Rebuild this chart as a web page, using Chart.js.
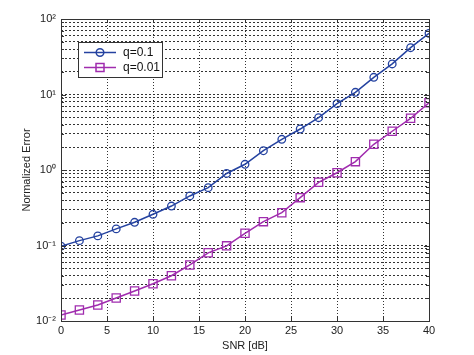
<!DOCTYPE html>
<html>
<head>
<meta charset="utf-8">
<script src="https://cdn.jsdelivr.net/npm/chart.js@4/dist/chart.umd.min.js"></script>
<style>
html,body{margin:0;padding:0;background:#fff;}
canvas{display:block;}
</style>
</head>
<body>
<canvas id="c" width="474" height="355"></canvas>
<script>
const snr = [0,2,4,6,8,10,12,14,16,18,20,22,24,26,28,30,32,34,36,38,40];
const errQ01 = [0.098,0.116,0.134,0.166,0.203,0.259,0.333,0.453,0.583,0.90,1.19,1.80,2.55,3.49,4.93,7.55,10.7,16.9,25.4,41.7,64.6];
const errQ001 = [0.012,0.014,0.0163,0.0202,0.025,0.0312,0.0398,0.0552,0.080,0.099,0.145,0.207,0.272,0.43,0.687,0.92,1.29,2.19,3.26,4.84,7.78];
const seriesLabels = ['q=0.1','q=0.01'];
const xTicks = [0,5,10,15,20,25,30,35,40];
const yDecades = [0.01,0.1,1,10,100];
const yDecadeLabels = ['10\u207B\u00B2','10\u207B\u00B9','10\u2070','10\u00B9','10\u00B2'];

const BLUE = '#2442a0';
const PURPLE = '#a02cae';
const FONT = '"Liberation Sans", Arial, sans-serif';

function toPts(xs, ys){ return xs.map((x,i)=>({x:x,y:ys[i]})); }

const boxPlugin = {
  id:'boxPlugin',
  afterDatasetsDraw(chart){
    const ctx = chart.ctx, a = chart.chartArea;
    const xs = chart.scales.x, ys = chart.scales.y;
    ctx.save();
    ctx.strokeStyle = '#333';
    ctx.lineWidth = 1;
    ctx.beginPath();
    xTicks.forEach(v=>{
      const px = Math.round(xs.getPixelForValue(v))+0.5;
      ctx.moveTo(px,a.bottom); ctx.lineTo(px,a.bottom-4);
      ctx.moveTo(px,a.top); ctx.lineTo(px,a.top+4);
    });
    ys.ticks.forEach(t=>{
      const py = Math.round(ys.getPixelForValue(t.value))+0.5;
      const len = yDecades.some(d=>Math.abs(d-t.value)/d<1e-6) ? 5 : 3;
      ctx.moveTo(a.left,py); ctx.lineTo(a.left+len,py);
      ctx.moveTo(a.right,py); ctx.lineTo(a.right-len,py);
    });
    ctx.stroke();
    ctx.strokeRect(Math.round(a.left)+0.5, Math.round(a.top)+0.5, Math.round(a.right-a.left), Math.round(a.bottom-a.top));
    ctx.restore();
  },
  afterDraw(chart){
    const ctx = chart.ctx;
    const lx = 78, ly = 42, lw = 84, lh = 35;
    ctx.save();
    ctx.fillStyle = '#fff';
    ctx.fillRect(lx,ly,lw,lh);
    ctx.strokeStyle = '#333';
    ctx.lineWidth = 1;
    ctx.strokeRect(lx+0.5,ly+0.5,lw,lh);
    chart.data.datasets.forEach((ds,i)=>{
      const y = ly + 10.5 + i*15;
      ctx.strokeStyle = ds.borderColor;
      ctx.lineWidth = 1.5;
      ctx.beginPath(); ctx.moveTo(lx+6,y); ctx.lineTo(lx+38,y); ctx.stroke();
      const cx = lx+22;
      if(ds.pointStyle==='circle'){
        ctx.beginPath(); ctx.arc(cx,y,3.8,0,Math.PI*2); ctx.stroke();
      } else {
        ctx.strokeRect(cx-4,y-4,8,8);
      }
      ctx.fillStyle = '#111';
      ctx.font = '12px ' + FONT;
      ctx.textBaseline = 'middle';
      ctx.textAlign = 'left';
      ctx.fillText(ds.label, lx+45, y+0.5);
    });
    ctx.restore();
  }
};

new Chart(document.getElementById('c'), {
  type:'line',
  data:{
    datasets:[
      {label:seriesLabels[0], data:toPts(snr,errQ01), borderColor:BLUE, backgroundColor:'rgba(0,0,0,0)',
       borderWidth:1.5, pointStyle:'circle', pointRadius:3.8, pointBorderWidth:1.3, pointBackgroundColor:'rgba(0,0,0,0)', pointBorderColor:BLUE, tension:0},
      {label:seriesLabels[1], data:toPts(snr,errQ001), borderColor:PURPLE, backgroundColor:'rgba(0,0,0,0)',
       borderWidth:1.5, pointStyle:'rect', pointRadius:5.8, pointBorderWidth:1.3, pointBackgroundColor:'rgba(0,0,0,0)', pointBorderColor:PURPLE, tension:0}
    ]
  },
  options:{
    responsive:false,
    animation:false,
    layout:{padding:{left:0,right:45,top:19,bottom:0}},
    plugins:{legend:{display:false}, tooltip:{enabled:false}},
    scales:{
      x:{
        type:'linear', min:0, max:40,
        afterBuildTicks(s){ s.ticks = xTicks.map(v=>({value:v})); },
        afterFit(s){ s.height = 34; },
        ticks:{color:'#222', font:{family:FONT,size:11}, padding:3, maxRotation:0},
        grid:{color:'#333', lineWidth:1, drawTicks:false, tickLength:0},
        border:{display:false, dash:[1,2]},
        title:{display:true, text:'SNR [dB]', color:'#222', font:{family:FONT,size:11}, padding:{top:0,bottom:2}}
      },
      y:{
        type:'logarithmic', min:0.01, max:100,
        afterBuildTicks(s){
          const t=[];
          for(let e=-2;e<2;e++){ for(let m=1;m<10;m++){ t.push({value:m*Math.pow(10,e)}); } }
          t.push({value:100});
          s.ticks = t;
        },
        afterFit(s){ s.width = 61; },
        ticks:{
          color:'#222', font:{family:FONT,size:11}, padding:5, autoSkip:false,
          callback(v){
            const i = yDecades.findIndex(d=>Math.abs(d-v)/d<1e-6);
            return i>=0 ? yDecadeLabels[i] : '';
          }
        },
        grid:{color:'#333', lineWidth:1, drawTicks:false, tickLength:0},
        border:{display:false, dash:[2,2]},
        title:{display:true, text:'Normalized Error', color:'#222', font:{family:FONT,size:11}, padding:{top:20,bottom:0}}
      }
    }
  },
  plugins:[boxPlugin]
});
</script>
</body>
</html>
